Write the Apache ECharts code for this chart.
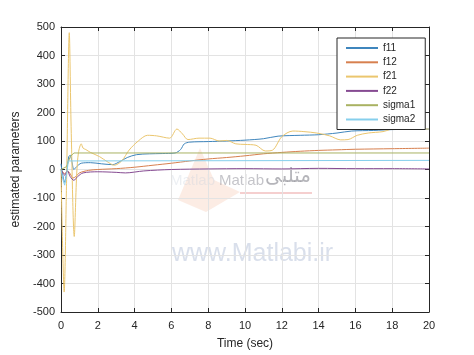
<!DOCTYPE html>
<html><head><meta charset="utf-8">
<script src="https://cdn.jsdelivr.net/npm/echarts@6/dist/echarts.min.js"></script>
<style>html,body{margin:0;padding:0;background:#fff}#c{width:474px;height:355px}</style>
</head><body><div id="c"></div>
<script>
const seriesNames = ['f11','f12','f21','f22','sigma1','sigma2'];
const xTicks = {min:0, max:20, interval:2};
const yTicks = {min:-500, max:500, interval:100};

const f11 = [[0,20],[0.1,-20],[0.2,-45],[0.3,-10],[0.42,45],[0.5,50],[0.6,25],[0.7,0],[0.85,10],[1.1,22],[1.6,24],[2.2,20],[2.8,17],[3.2,28],[3.6,42],[4.1,52],[4.8,55],[5.5,56],[6.2,58],[6.5,70],[6.7,90],[7,96],[8,98],[9,100],[10,103],[11,108],[11.8,117],[13,120],[14,122],[15,128],[15.8,135],[17,137],[18,140],[20,142]];
const f12 = [[0,0],[0.2,-15],[0.35,-5],[0.5,-15],[0.65,-30],[0.8,-25],[1,-12],[1.5,-3],[2,0],[3,3],[4,8],[5,15],[6,22],[7,30],[8,37],[9,42],[10,48],[11,55],[12,60],[13,64],[14,67],[15,69],[16,71],[18,73],[20,75]];
const f21 = [[0,0],[0.08,-250],[0.17,-430],[0.3,-50],[0.45,480],[0.55,150],[0.72,-235],[0.85,-20],[0.95,60],[1.1,90],[1.2,75],[1.35,70],[1.6,60],[2.1,45],[2.5,28],[2.9,15],[3.3,30],[3.7,68],[4.2,100],[4.7,120],[5.2,118],[5.9,110],[6.3,142],[6.6,125],[6.9,105],[7.5,110],[8.1,110],[8.6,100],[9,102],[9.5,90],[10,88],[10.6,85],[11.1,65],[11.5,68],[12,115],[12.6,135],[13.2,133],[13.9,128],[14.6,118],[15.2,104],[15.6,105],[16.1,120],[16.7,128],[17.5,133],[18.2,145],[18.6,142],[20,142]];
const f22 = [[0,0],[0.2,-20],[0.35,-5],[0.5,-25],[0.7,-38],[0.9,-25],[1.2,-12],[2,-8],[3,-10],[3.5,-12],[4.5,-5],[6,0],[8,2],[10,3],[12,2],[14,4],[16,3],[18,3],[20,2]];
const sigma1 = [[0,0],[0.3,10],[0.5,45],[0.7,58],[20,58]];
const sigma2 = [[0,0],[0.1,-35],[0.2,-55],[0.3,-20],[0.4,30],[0.5,32],[20,32]];

const colors = ['#3f86bd','#d7804f','#ebc66e','#864b92','#a9b262','#86cfec'];
const allData = [f11,f12,f21,f22,sigma1,sigma2];
const smoothness = [0.3,0.3,0.3,0.3,0,0];

const chart = echarts.init(document.getElementById('c'));
const font = 'Liberation Sans, Arial, sans-serif';
const axCol = '#262626';
function xAx(pos, labels){
  return {type:'value', position:pos, min:xTicks.min, max:xTicks.max, interval:xTicks.interval,
    axisLine:{show:true, onZero:false, lineStyle:{color:axCol,width:1}},
    axisTick:{show:true, inside:true, length:4, lineStyle:{color:axCol}},
    axisLabel:{show:labels, color:axCol, fontSize:11, fontFamily:font, margin:8},
    splitLine:{show:labels, lineStyle:{color:'#e3e3e3', width:1}},
    name: labels ? 'Time (sec)' : '', nameLocation:'middle', nameGap:26,
    nameTextStyle:{color:axCol, fontSize:12, fontFamily:font}};
}
function yAx(pos, labels){
  return {type:'value', position:pos, min:yTicks.min, max:yTicks.max, interval:yTicks.interval,
    axisLine:{show:true, onZero:false, lineStyle:{color:axCol,width:1}},
    axisTick:{show:true, inside:true, length:4, lineStyle:{color:axCol}},
    axisLabel:{show:labels, color:axCol, fontSize:11, fontFamily:font, margin:6},
    splitLine:{show:labels, lineStyle:{color:'#e3e3e3', width:1}},
    name: labels ? 'estimated parameters' : '', nameLocation:'middle', nameGap:33, nameRotate:90,
    nameTextStyle:{color:axCol, fontSize:12, fontFamily:font}};
}
chart.setOption({
  animation:false,
  backgroundColor:'#fff',
  grid:{left:61, right:45, top:27, bottom:39},
  xAxis:[xAx('bottom',true), xAx('top',false)],
  yAxis:[yAx('left',true), yAx('right',false)],
  legend:{orient:'vertical', left:337, top:38, padding:[5,10,5,8], itemWidth:32, itemHeight:10, itemGap:4.3,
    borderColor:axCol, borderWidth:1, backgroundColor:'#fff',
    itemStyle:{opacity:0, borderWidth:0},
    textStyle:{color:axCol, fontSize:10, fontFamily:font}, data:seriesNames},
  graphic:[
    {type:'polygon', z:0, shape:{points:[[178,200],[200,148],[214,180],[240,192],[206,212]]}, style:{fill:'rgba(240,170,130,0.22)'}},
    {type:'line', z:0, shape:{x1:240,y1:193,x2:312,y2:193}, style:{stroke:'rgba(230,130,130,0.5)', lineWidth:1.5}},
    {type:'text', left:219, top:173, z:0, style:{text:'Matlab', fill:'rgba(140,140,150,0.5)', font:'15px '+font}},
    {type:'text', left:170, top:173, z:0, style:{text:'Matlab', fill:'rgba(200,210,220,0.35)', font:'15px '+font}},
    {type:'text', left:265, top:166, z:0, style:{text:'متلبی', fill:'rgba(120,120,130,0.55)', font:'20px Noto Sans, DejaVu Sans'}},
    {type:'text', left:172, top:242, z:0, style:{text:'www.Matlabi.ir', fill:'rgba(170,185,210,0.45)', font:'25px '+font}}
  ],
  series: seriesNames.map((n,i)=>({
    name:n, type:'line', data:allData[i], showSymbol:false, symbol:'none',
    smooth:smoothness[i], lineStyle:{width:1, color:colors[i]}, itemStyle:{color:colors[i]}
  }))
});
</script></body></html>
